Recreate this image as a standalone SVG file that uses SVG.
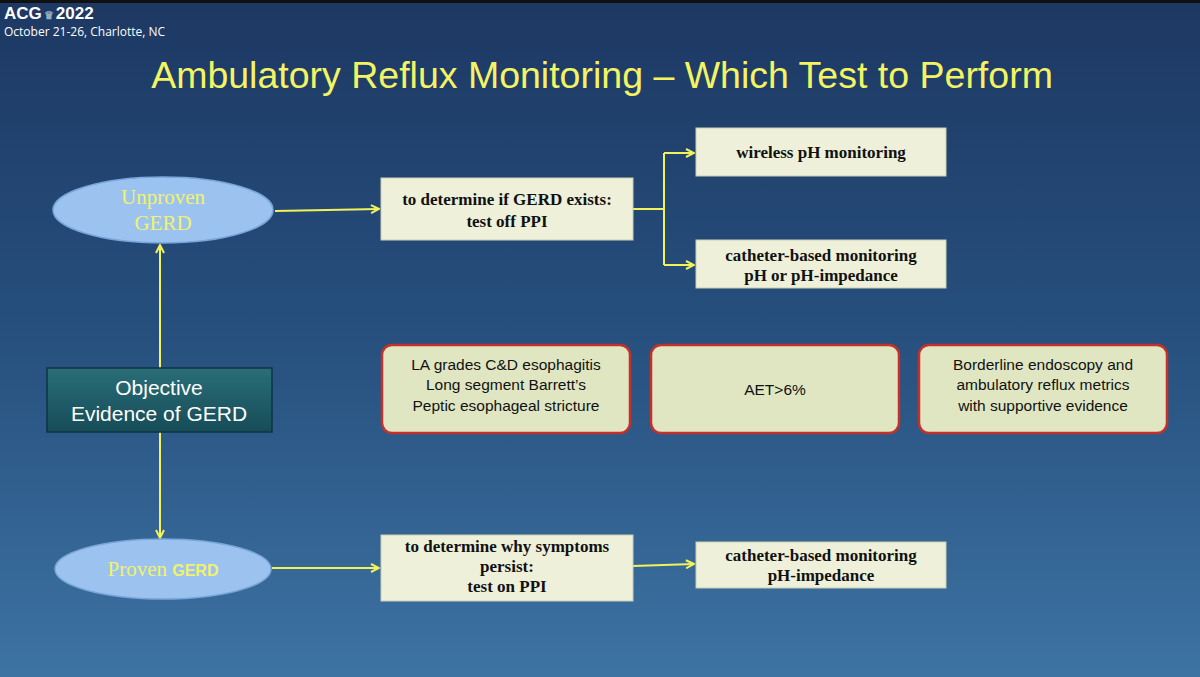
<svg xmlns="http://www.w3.org/2000/svg" width="1200" height="677" viewBox="0 0 1200 677">
<defs>
<linearGradient id="bg" x1="0" y1="0" x2="0" y2="1"><stop offset="0" stop-color="#1d3863"/><stop offset="0.5" stop-color="#27507e"/><stop offset="1" stop-color="#3d73a3"/></linearGradient>
<linearGradient id="obj" x1="0" y1="0" x2="0" y2="1"><stop offset="0" stop-color="#2a6e78"/><stop offset="1" stop-color="#164c58"/></linearGradient>
<marker id="ah" markerWidth="10" markerHeight="10" refX="9" refY="5" orient="auto" markerUnits="userSpaceOnUse"><path d="M1,1 L9,5 L1,9" fill="none" stroke="#f2f25a" stroke-width="2"/></marker>
</defs>
<style>
.t{font-family:"Liberation Serif",serif;font-weight:bold;font-size:17px;fill:#111;text-anchor:middle}
.s{font-family:"Liberation Sans",sans-serif;font-size:15.5px;fill:#111;text-anchor:middle}
.box{fill:#eef0d9;stroke:#c9cfb0;stroke-width:1}
.rb{fill:#dfe6c1;stroke:#c4302a;stroke-width:2.5}
.el{fill:#9cc3ef;stroke:#7aa6da;stroke-width:1.5}
.et{font-family:"Liberation Serif",serif;font-size:21px;fill:#f2f26a;text-anchor:middle}
.c{fill:none;stroke:#f2f25a;stroke-width:2}
</style>
<rect width="1200" height="677" fill="url(#bg)"/>
<rect width="1200" height="3" fill="#111"/>
<text x="4" y="19" font-family="Liberation Sans Narrow, Liberation Sans, sans-serif" font-weight="bold" font-size="17" fill="#fff">ACG<tspan fill="#9ab" font-size="11" dx="2">♛</tspan><tspan dx="2">2022</tspan></text>
<text x="4" y="36" font-family="Open Sans, sans-serif" font-size="12" fill="#fff">October 21-26, Charlotte, NC</text>
<text x="602" y="88" font-family="Liberation Sans, sans-serif" font-size="37.5" fill="#f4f463" text-anchor="middle">Ambulatory Reflux Monitoring – Which Test to Perform</text>
<g id="connectors">
<path class="c" d="M160,368 V245" marker-end="url(#ah)"/>
<path class="c" d="M160,432 V538" marker-end="url(#ah)"/>
<path class="c" d="M275,211 L379,209" marker-end="url(#ah)"/>
<path class="c" d="M633,209 H664"/>
<path class="c" d="M664,153 V265"/>
<path class="c" d="M664,153 H694" marker-end="url(#ah)"/>
<path class="c" d="M664,265 H694" marker-end="url(#ah)"/>
<path class="c" d="M272,568 H379" marker-end="url(#ah)"/>
<path class="c" d="M633,566 L694,564" marker-end="url(#ah)"/>
</g>
<g id="unproven"><ellipse class="el" cx="163" cy="210" rx="110" ry="33"/><text class="et" x="163" y="204">Unproven</text><text class="et" x="163" y="230">GERD</text></g>
<g id="offppi"><rect class="box" x="381" y="178" width="252" height="62"/><text class="t" x="507" y="205">to determine if GERD exists:</text><text class="t" x="507" y="227">test off PPI</text></g>
<g id="wireless"><rect class="box" x="696" y="128" width="250" height="48"/><text class="t" x="821" y="158">wireless pH monitoring</text></g>
<g id="catheter1"><rect class="box" x="696" y="240" width="250" height="48"/><text class="t" x="821" y="261">catheter-based monitoring</text><text class="t" x="821" y="281">pH or pH-impedance</text></g>
<g id="objective"><rect x="47" y="368" width="225" height="64" fill="url(#obj)" stroke="#0e3540" stroke-width="1.5"/><text x="159" y="395" font-family="Liberation Sans, sans-serif" font-size="21" fill="#fff" text-anchor="middle">Objective</text><text x="159" y="421" font-family="Liberation Sans, sans-serif" font-size="21" fill="#fff" text-anchor="middle">Evidence of GERD</text></g>
<g id="la"><rect class="rb" x="382" y="345" width="248" height="88" rx="10"/><text class="s" x="506" y="370">LA grades C&amp;D esophagitis</text><text class="s" x="506" y="390">Long segment Barrett’s</text><text class="s" x="506" y="411">Peptic esophageal stricture</text></g>
<g id="aet"><rect class="rb" x="651" y="345" width="248" height="88" rx="10"/><text class="s" x="775" y="395">AET&gt;6%</text></g>
<g id="borderline"><rect class="rb" x="919" y="345" width="248" height="88" rx="10"/><text class="s" x="1043" y="370">Borderline endoscopy and</text><text class="s" x="1043" y="390">ambulatory reflux metrics</text><text class="s" x="1043" y="411">with supportive evidence</text></g>
<g id="proven"><ellipse class="el" cx="163" cy="569" rx="108" ry="30"/><text class="et" x="163" y="576">Proven <tspan font-family="Liberation Sans, sans-serif" font-weight="bold" font-size="16">GERD</tspan></text></g>
<g id="onppi"><rect class="box" x="381" y="535" width="252" height="66"/><text class="t" x="507" y="552">to determine why symptoms</text><text class="t" x="507" y="572">persist:</text><text class="t" x="507" y="592">test on PPI</text></g>
<g id="catheter2"><rect class="box" x="696" y="542" width="250" height="46"/><text class="t" x="821" y="561">catheter-based monitoring</text><text class="t" x="821" y="581">pH-impedance</text></g>
</svg>
